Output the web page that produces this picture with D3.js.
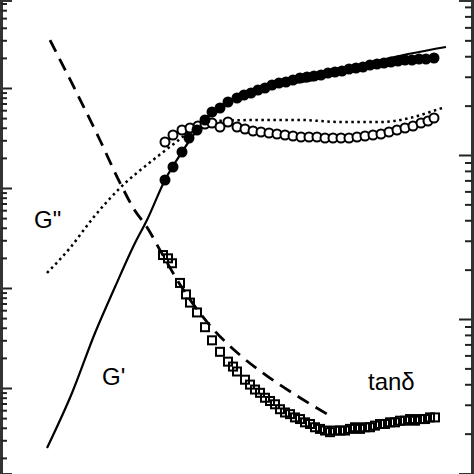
<!DOCTYPE html>
<html><head><meta charset="utf-8">
<script src="https://cdn.jsdelivr.net/npm/d3@7"></script>
<style>body{margin:0;background:#fff}svg{display:block}</style>
</head><body>
<svg id="chart" width="474" height="474"></svg>
<script>
// x: log10 frequency; left y: log10 G (Pa); right y: log10 tan delta
const gpLine = [[0.47,0.40],[0.72,0.95],[0.95,1.55],[1.15,2.01],[1.35,2.45],[1.47,2.68],[1.65,3.08],[1.82,3.36],[1.97,3.58],[2.12,3.76],[2.37,3.90],[2.67,4.01],[3.14,4.08],[3.81,4.28],[4.46,4.41]];
const gpData = [[1.65,3.08],[1.73,3.21],[1.82,3.36],[1.89,3.50],[1.97,3.58],[2.05,3.68],[2.12,3.76],[2.20,3.80],[2.28,3.86],[2.37,3.90],[2.44,3.93],[2.51,3.95],[2.58,3.98],[2.65,4.00],[2.72,4.03],[2.79,4.05],[2.86,4.06],[2.93,4.08],[3.00,4.10],[3.07,4.11],[3.14,4.12],[3.21,4.13],[3.28,4.15],[3.35,4.16],[3.42,4.17],[3.49,4.19],[3.56,4.20],[3.63,4.21],[3.70,4.23],[3.77,4.24],[3.84,4.25],[3.91,4.26],[3.98,4.27],[4.05,4.28],[4.12,4.28],[4.19,4.29],[4.26,4.29],[4.34,4.30]];
const gppLine = [[0.47,2.15],[0.70,2.40],[0.93,2.70],[1.20,3.00],[1.53,3.28],[1.75,3.45],[1.95,3.60],[2.15,3.67],[2.60,3.68],[3.00,3.68],[3.40,3.66],[3.80,3.66],[4.10,3.70],[4.30,3.76],[4.42,3.80]];
const gppData = [[1.65,3.46],[1.73,3.53],[1.82,3.58],[1.90,3.60],[1.98,3.62],[2.05,3.64],[2.12,3.65],[2.20,3.61],[2.28,3.66],[2.37,3.61],[2.45,3.59],[2.53,3.57],[2.61,3.56],[2.69,3.55],[2.77,3.54],[2.85,3.53],[2.93,3.52],[3.01,3.51],[3.09,3.51],[3.17,3.51],[3.25,3.50],[3.33,3.50],[3.41,3.50],[3.49,3.50],[3.57,3.51],[3.65,3.52],[3.73,3.53],[3.81,3.54],[3.89,3.56],[3.97,3.58],[4.05,3.60],[4.13,3.62],[4.21,3.65],[4.28,3.67],[4.34,3.70]];
const tanLine = [[0.50,0.70],[0.75,0.40],[1.00,0.09],[1.20,-0.17],[1.35,-0.34],[1.47,-0.44],[1.60,-0.58],[1.80,-0.79],[2.10,-1.04],[2.40,-1.22],[2.70,-1.36],[3.00,-1.48],[3.30,-1.59]];
const tanData = [[1.63,-0.61],[1.68,-0.63],[1.72,-0.66],[1.80,-0.78],[1.86,-0.85],[1.90,-0.90],[1.97,-0.96],[2.05,-1.05],[2.12,-1.13],[2.20,-1.20],[2.28,-1.26],[2.33,-1.29],[2.37,-1.32],[2.45,-1.37],[2.50,-1.40],[2.55,-1.43],[2.60,-1.45],[2.65,-1.48],[2.70,-1.50],[2.75,-1.52],[2.80,-1.55],[2.85,-1.57],[2.90,-1.58],[2.95,-1.60],[3.00,-1.61],[3.05,-1.63],[3.10,-1.64],[3.15,-1.66],[3.20,-1.67],[3.25,-1.68],[3.30,-1.69],[3.35,-1.68],[3.40,-1.68],[3.45,-1.68],[3.50,-1.67],[3.55,-1.66],[3.60,-1.67],[3.65,-1.66],[3.70,-1.66],[3.75,-1.65],[3.80,-1.64],[3.85,-1.64],[3.90,-1.63],[3.95,-1.63],[4.00,-1.62],[4.05,-1.62],[4.10,-1.61],[4.15,-1.62],[4.20,-1.61],[4.25,-1.61],[4.30,-1.60],[4.35,-1.60]];
const leftDecades = [0, 1, 2, 3, 4];
const rightDecades = [-2, -1, 0];
const labels = [
    {t: 'G"', x: 0.34, axis: 'L', y: 2.60},
    {t: "G'", x: 1.02, axis: 'L', y: 1.03},
    {t: 'tanδ', x: 3.68, axis: 'R', y: -1.43}
];

const W = 474, H = 474;
const svg = d3.select('#chart');
const x = d3.scaleLinear().domain([0, 4.74]).range([0, W]);
const yL = d3.scaleLinear().domain([0.14, 4.88]).range([H, 0]);
const yR = d3.scaleLinear().domain([-1.945, 0.945]).range([H, 0]);

function logTicks(decs, scale) {
    const major = [], minor = [];
    decs.forEach(d => {
        const [lo, hi] = scale.domain();
        if (d >= lo && d <= hi) major.push(d);
        for (let m = 2; m <= 9; m++) {
            const v = d + Math.log10(m);
            if (v >= lo && v <= hi) minor.push(v);
        }
    });
    return {major, minor};
}

const lt = logTicks(leftDecades, yL);
svg.append('g').attr('transform', 'translate(1,0)')
    .call(d3.axisRight(yL).tickValues(lt.major).tickSize(11).tickFormat(''));
svg.append('g').attr('transform', 'translate(1,0)')
    .call(d3.axisRight(yL).tickValues(lt.minor).tickSize(6).tickFormat(''));
const rt = logTicks(rightDecades, yR);
svg.append('g').attr('transform', `translate(${W - 2},0)`)
    .call(d3.axisLeft(yR).tickValues(rt.major).tickSize(13).tickFormat(''));
svg.append('g').attr('transform', `translate(${W - 2},0)`)
    .call(d3.axisLeft(yR).tickValues(rt.minor).tickSize(7).tickFormat(''));
svg.selectAll('.domain').attr('stroke-width', 3).attr('stroke', '#333');
svg.selectAll('.tick line').attr('stroke-width', 2).attr('stroke', '#222');

const lineL = d3.line().x(d => x(d[0])).y(d => yL(d[1])).curve(d3.curveMonotoneX);
const lineR = d3.line().x(d => x(d[0])).y(d => yR(d[1])).curve(d3.curveMonotoneX);

svg.append('path').attr('d', lineL(gpLine)).attr('fill', 'none').attr('stroke', '#000').attr('stroke-width', 2.2);
svg.append('path').attr('d', lineL(gppLine)).attr('fill', 'none').attr('stroke', '#000').attr('stroke-width', 2.5).attr('stroke-dasharray', '2.5,3.5');
svg.append('path').attr('d', lineR(tanLine)).attr('fill', 'none').attr('stroke', '#000').attr('stroke-width', 2.8).attr('stroke-dasharray', '13,8');

svg.append('g').selectAll('rect').data(tanData).enter().append('rect')
    .attr('x', d => x(d[0]) - 4).attr('y', d => yR(d[1]) - 4)
    .attr('width', 8).attr('height', 8)
    .attr('fill', 'none').attr('stroke', '#000').attr('stroke-width', 2);
svg.append('g').selectAll('circle').data(gppData).enter().append('circle')
    .attr('cx', d => x(d[0])).attr('cy', d => yL(d[1])).attr('r', 4.5)
    .attr('fill', '#fff').attr('stroke', '#000').attr('stroke-width', 2);
svg.append('g').selectAll('circle').data(gpData).enter().append('circle')
    .attr('cx', d => x(d[0])).attr('cy', d => yL(d[1])).attr('r', 5.5)
    .attr('fill', '#000');

svg.selectAll('text.lab').data(labels).enter().append('text')
    .attr('class', 'lab')
    .attr('x', d => x(d.x))
    .attr('y', d => d.axis === 'R' ? yR(d.y) : yL(d.y))
    .attr('font-family', 'Liberation Sans, Arial, sans-serif')
    .attr('font-size', 24)
    .text(d => d.t);
</script>
</body></html>
